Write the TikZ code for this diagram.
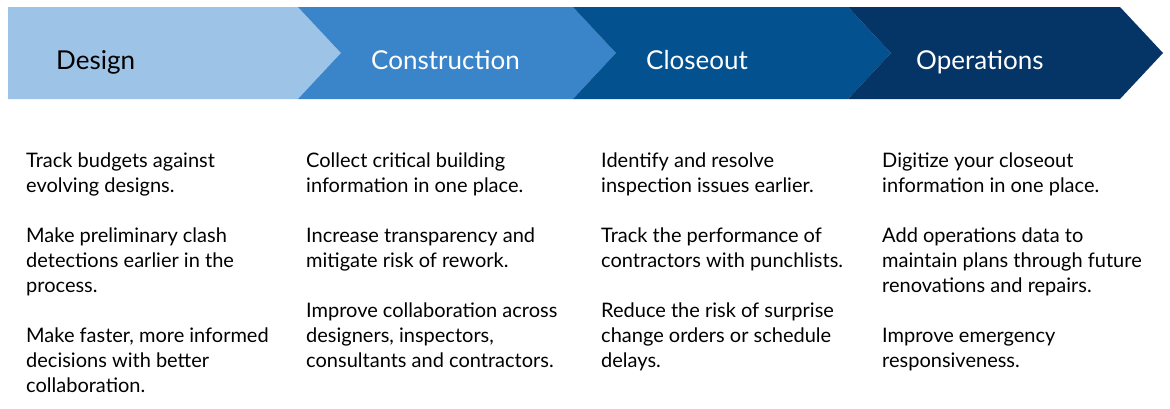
\documentclass[tikz,border=0pt]{standalone}
\usepackage{fontspec}
\setmainfont{Lato}
\usepackage{xcolor}
\usetikzlibrary{positioning}

\definecolor{designblue}{HTML}{9DC3E6}
\definecolor{constrblue}{HTML}{3A84C9}
\definecolor{closeblue}{HTML}{03518F}
\definecolor{operblue}{HTML}{053567}

\tikzset{
  stagelabel/.style={anchor=base west, inner sep=0pt, font=\fontsize{26}{31}\selectfont},
  bodytext/.style={anchor=north west, inner sep=0pt, align=left, font=\fontsize{20}{24.9}\selectfont}
}

\begin{document}
\begin{tikzpicture}[x=1pt, y=-1pt]
					\useasboundingbox (0,0) rectangle (1170,408);
					
					% Chevrons
					\fill[designblue] (8,7) -- (298,7) -- (341,53) -- (298,99) -- (8,99) -- cycle;
					\fill[constrblue] (298,7) -- (573,7) -- (616,53) -- (573,99) -- (298,99) -- (341,53) -- cycle;
					\fill[closeblue] (573,7) -- (848,7) -- (891,53) -- (848,99) -- (573,99) -- (616,53) -- cycle;
					\fill[operblue] (848,7) -- (1120,7) -- (1163,53) -- (1120,99) -- (848,99) -- (891,53) -- cycle;
					
					% Stage labels
					\node[stagelabel] (design) at (56,69) {Design};
					\node[stagelabel, white] (construction) at (371,69) {Construction};
					\node[stagelabel, white] (closeout) at (646,69) {Closeout};
					\node[stagelabel, white] (operations) at (916,69) {Operations};
					
					% Benefits
					\node[bodytext] (designtext) at (26,153) {Track budgets against\\ evolving designs.\\[24.9pt]
						Make preliminary clash\\ detections earlier in the\\ process.\\[24.9pt]
						Make faster, more informed\\ decisions with better\\ collaboration.};
					\node[bodytext] (constrtext) at (306,153) {Collect critical building\\ information in one place.\\[24.9pt]
						Increase transparency and\\ mitigate risk of rework.\\[24.9pt]
						Improve collaboration across\\ designers, inspectors,\\ consultants and contractors.};
					\node[bodytext] (closetext) at (601,153) {Identify and resolve\\ inspection issues earlier.\\[24.9pt]
						Track the performance of\\ contractors with punchlists.\\[24.9pt]
						Reduce the risk of surprise\\ change orders or schedule\\ delays.};
					\node[bodytext] (opertext) at (882,153) {Digitize your closeout\\ information in one place.\\[24.9pt]
						Add operations data to\\ maintain plans through future\\ renovations and repairs.\\[24.9pt]
						Improve emergency\\ responsiveness.};
				\end{tikzpicture}
\end{document}
